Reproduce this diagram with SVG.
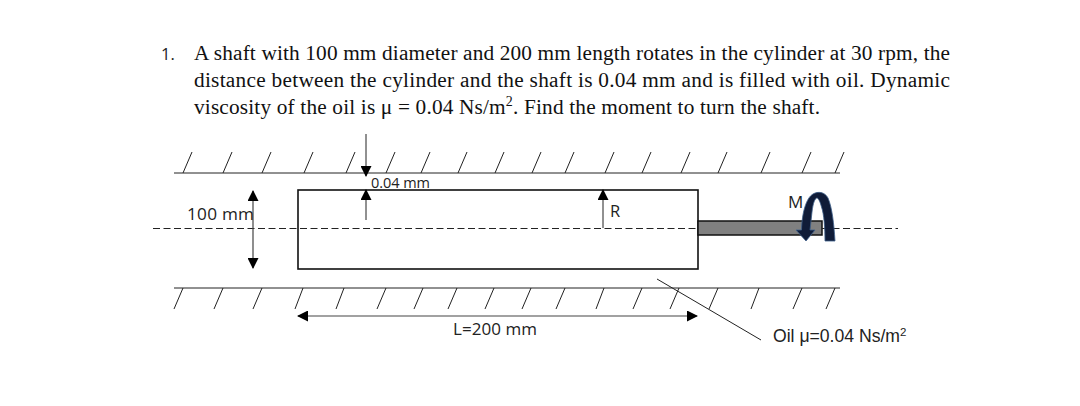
<svg xmlns="http://www.w3.org/2000/svg" width="1080" height="406" viewBox="0 0 1080 406">
<defs>
<marker id="ah" markerUnits="userSpaceOnUse" markerWidth="11" markerHeight="11" refX="10" refY="5.5" orient="auto-start-reverse"><path d="M0 0L11 5.5L0 11Z" fill="#000"/></marker>
</defs>
<style>
.b{font-family:"Liberation Serif","Times New Roman",serif;font-size:21.3px;fill:#111}
.c{font-family:"Open Sans","Noto Sans",sans-serif;fill:#222}
.a{font-family:"Liberation Sans",Arial,sans-serif;font-size:17.6px;fill:#222}
.l{fill:none;stroke:#222;stroke-width:1}
.d{fill:none;stroke:#222;stroke-width:1;stroke-dasharray:7 3.5}
.n{fill:none;stroke:#111;stroke-width:1.6}
.q{fill:none;stroke:#444;stroke-width:1.2}
</style>
<g id="question">
<text class="c" x="161" y="60" font-size="16.500">1.</text>
<text class="b" x="194" y="60" textLength="756" lengthAdjust="spacing">A shaft with 100 mm diameter and 200 mm length rotates in the cylinder at 30 rpm, the</text>
<text class="b" x="194" y="87" textLength="756" lengthAdjust="spacing">distance between the cylinder and the shaft is 0.04 mm and is filled with oil. Dynamic</text>
<text class="b" x="194" y="114" textLength="626" lengthAdjust="spacing">viscosity of the oil is μ = 0.04 Ns/m<tspan font-size="14" dy="-8">2</tspan><tspan dy="8">. Find the moment to turn the shaft.</tspan></text>
</g>
<g id="top-wall">
<path class="l" d="M174 173H840"/>
<path class="l" d="M183 173L192 152M223 173L232 152M262 173L271 152M304 173L313 152M346 173L355 152M386 173L395 152M421 173L430 152M458 173L467 152M495 173L504 152M532 173L541 152M565 173L574 152M605 173L614 152M642 173L651 152M681 173L690 152M718 173L727 152M761 173L770 152M802 173L811 152M835 173L844 152"/>
</g>
<g id="bottom-wall">
<path class="l" d="M174 288H840"/>
<path class="l" d="M183 288L174 309M223 288L214 309M262 288L253 309M303 288L295 309M344 288L336 309M386 288L377 309M423 288L414 309M457 288L448 309M494 288L485 309M531 288L522 309M565 288L556 309M604 288L596 309M642 288L633 309M679 288L670 309M718 288L709 309M759 288L751 309M802 288L793 309M835 288L826 309"/>
</g>
<g id="shaft">
<rect class="n" x="298" y="190" width="400" height="79" fill="#fff"/>
</g>
<g id="rod">
<rect x="698" y="221" width="124" height="14" fill="#808080" stroke="#111" stroke-width="1.5"/>
</g>
<g id="connectors">
<path class="d" d="M153 228.500H698"/>
<path class="d" d="M822 228.500H898"/>
<path class="l" d="M366 134V176" marker-end="url(#ah)"/>
<path class="l" d="M366 220V190" marker-end="url(#ah)"/>
<path class="l" d="M603 228V190" marker-end="url(#ah)"/>
<path class="q" d="M253 191V268" marker-start="url(#ah)" marker-end="url(#ah)"/>
<path class="q" d="M298 316H697" marker-start="url(#ah)" marker-end="url(#ah)"/>
<path class="l" d="M657 279L761 340"/>
</g>
<g id="moment">
<path d="M796 230H801.500C802 213 806 198 813 194C818 191 825 192 828 198C832 207 834 224 835 241H825C825 228 824 214 821.500 207C820 201 818 198 817 198C815 198 813 203 812 212L810 230H815L806 241Z" fill="#101c38" stroke="#3e5f8a" stroke-width="0.8"/>
</g>
<g id="labels">
<text class="c" x="371" y="188" font-size="14.500" textLength="59">0.04 mm</text>
<text class="c" x="187" y="220" font-size="17.200" textLength="67">100 mm</text>
<text class="c" x="610" y="217" font-size="16.500">R</text>
<text class="c" x="788" y="208" font-size="17">M</text>
<text class="c" x="453" y="335" font-size="17" textLength="84">L=200 mm</text>
<text class="a" x="773" y="342">Oil μ=0.04 Ns/m<tspan font-size="11.500" dy="-6">2</tspan></text>
</g>
</svg>
